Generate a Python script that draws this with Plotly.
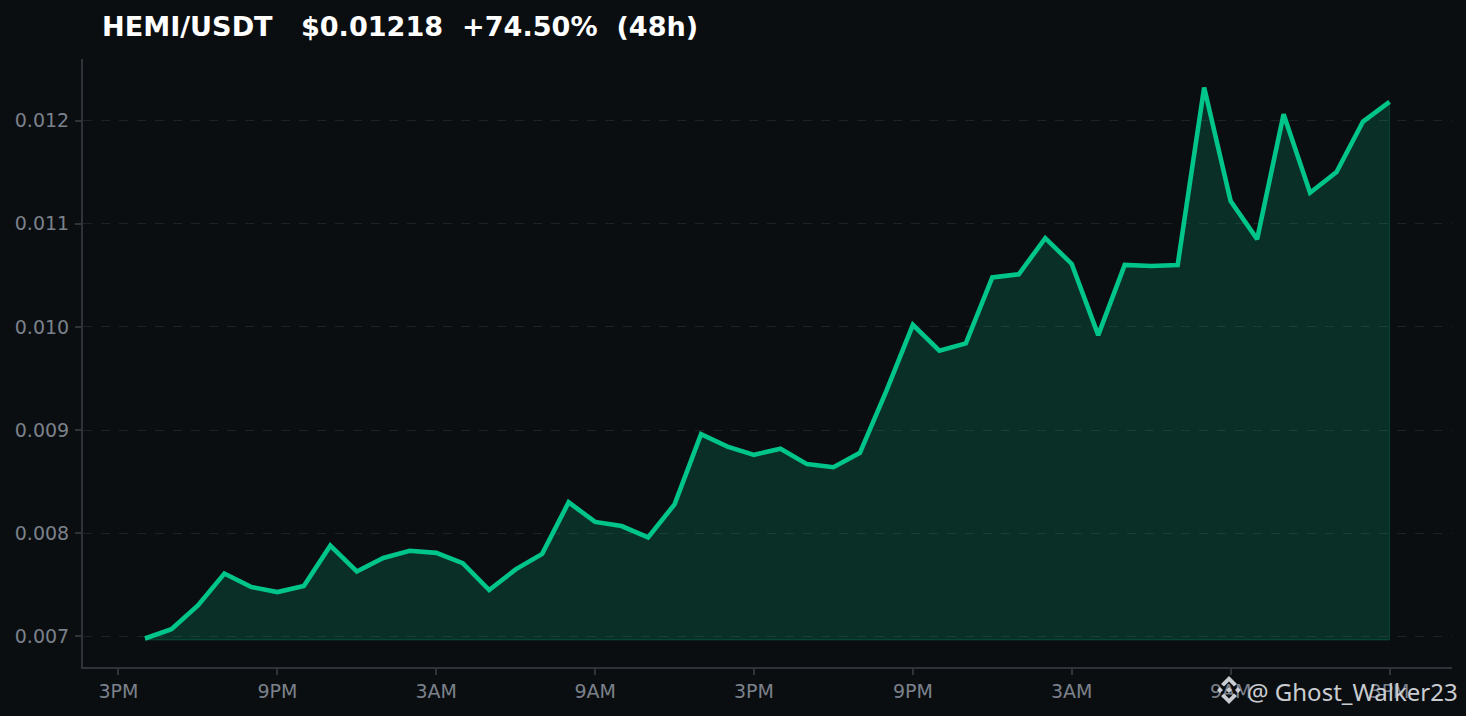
import plotly.graph_objects as go

BG = "#0b0e11"
GREEN = "#00c58a"
TICK = "#7b818b"
SPINE = "#2f333a"
GRID = "#1e2226"

hours = list(range(1, 49))
price = [0.00698, 0.00707, 0.00730, 0.00761, 0.00748, 0.00743, 0.00749, 0.00788,
         0.00763, 0.00776, 0.00783, 0.00781, 0.00771, 0.00745, 0.00765, 0.00780,
         0.00830, 0.00811, 0.00807, 0.00796, 0.00828, 0.00896, 0.00884, 0.00876,
         0.00882, 0.00867, 0.00864, 0.00878, 0.00938, 0.01002, 0.00977, 0.00984,
         0.01048, 0.01051, 0.01086, 0.01061, 0.00992, 0.01060, 0.01059, 0.01060,
         0.01232, 0.01122, 0.01085, 0.01206, 0.01130, 0.01150, 0.01199, 0.01218]
fill_floor = 0.006966

x_ticks = [0, 6, 12, 18, 24, 30, 36, 42, 48]
x_labels = ["3PM", "9PM", "3AM", "9AM", "3PM", "9PM", "3AM", "9AM", "3PM"]
y_ticks = [0.007, 0.008, 0.009, 0.010, 0.011, 0.012]
y_labels = ["0.007", "0.008", "0.009", "0.010", "0.011", "0.012"]

fig = go.Figure()

# area goes down to the floor, not to zero
fig.add_trace(go.Scatter(x=hours + [hours[-1], hours[0]],
                         y=price + [fill_floor, fill_floor],
                         mode="lines", fill="toself",
                         fillcolor="rgba(0,197,138,0.18)",
                         line=dict(color="rgba(0,197,138,0.2)", width=1.2),
                         hoverinfo="skip", showlegend=False))
fig.add_trace(go.Scatter(x=hours, y=price, mode="lines",
                         line=dict(color=GREEN, width=4.6), showlegend=False))

fig.update_xaxes(range=[-1.34, 50.36], tickmode="array", tickvals=x_ticks, ticktext=x_labels,
                 showgrid=False, zeroline=False, showline=True, linecolor=SPINE, linewidth=2,
                 ticks="outside", ticklen=6, tickwidth=1.5, tickcolor=SPINE,
                 tickfont=dict(family="DejaVu Sans", size=19, color=TICK))
fig.update_yaxes(range=[0.006704, 0.012596], tickmode="array", tickvals=y_ticks, ticktext=y_labels,
                 showgrid=True, gridcolor=GRID, griddash="dash", gridwidth=1,
                 zeroline=False, showline=True, linecolor=SPINE, linewidth=2,
                 ticks="outside", ticklen=6, tickwidth=1.5, tickcolor=SPINE, ticklabelstandoff=2,
                 tickfont=dict(family="DejaVu Sans", size=19, color=TICK))

# watermark logo
logo = ("M 0 14 L 8 6 L 5 3.5 L 0 8.5 L -5 3.5 L -8 6 Z "
        "M 0 -14 L 8 -6 L 5 -3.5 L 0 -8.5 L -5 -3.5 L -8 -6 Z "
        "M -12 0 L -9 -3 L -6 0 L -9 3 Z "
        "M 12 0 L 9 -3 L 6 0 L 9 3 Z "
        "M 0 -3 L 3 0 L 0 3 L -3 0 Z")

fig.update_layout(
    width=1466, height=716, autosize=False,
    paper_bgcolor=BG, plot_bgcolor=BG,
    margin=dict(l=83, r=14, t=59, b=49),
    showlegend=False,
    title=dict(text="<b>HEMI/USDT   $0.01218  +74.50%  (48h)</b>", x=102 / 1466, xanchor="left",
               y=1 - 27 / 716, yanchor="middle", xref="container", yref="container",
               font=dict(family="DejaVu Sans", size=27.1, color="#ffffff")),
    annotations=[dict(text="@ Ghost_Walker23", xref="paper", yref="paper",
                      x=(1460 - 83) / 1369, xanchor="right", y=(667 - 691) / 608, yanchor="middle",
                      showarrow=False,
                      font=dict(family="Noto Sans", size=24, color="#c9ccd0"))],
    shapes=[dict(type="path", path=logo, xsizemode="pixel", ysizemode="pixel",
                 xref="paper", yref="paper", xanchor=(1229 - 83) / 1369, yanchor=(667 - 690) / 608,
                 fillcolor="#c9ccd0", line=dict(width=0), layer="above")],
)

fig.write_html("out.html", config={"displayModeBar": False},
               post_script="document.body.style.margin='0';")
